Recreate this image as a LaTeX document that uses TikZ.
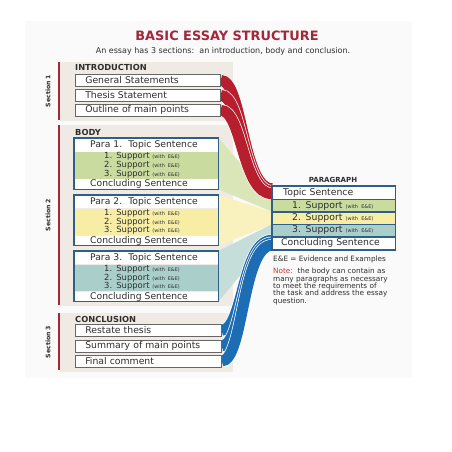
\documentclass[tikz,border=0pt]{standalone}
\usepackage{fontspec}
\setmainfont{DejaVu Sans}
\usetikzlibrary{calc,backgrounds}

\definecolor{essred}{HTML}{A3273A}
\definecolor{notered}{HTML}{C0392B}
\definecolor{ribred}{HTML}{B71F2E}
\definecolor{ribblue}{HTML}{1D6DB5}
\definecolor{panel}{HTML}{EFEBE4}
\definecolor{pblue}{HTML}{2F5E88}
\definecolor{txt}{HTML}{2E2E2E}
\definecolor{sgreen}{HTML}{C9DB9E}
\definecolor{syellow}{HTML}{F8EDA5}
\definecolor{steal}{HTML}{AACFCB}
\definecolor{fgreen}{HTML}{DAE6B8}
\definecolor{fyellow}{HTML}{FAF2BE}
\definecolor{fteal}{HTML}{C5DEDA}

\newcommand{\setfs}[1]{\fontsize{#1}{#1}\selectfont}
\newcommand{\supline}[1]{#1. Support {\setfs{5}(with E\&E)}}

\tikzset{
  lbox/.style={draw=black!60, line width=0.6pt, fill=white, anchor=north west,
    minimum height=12pt, text width=125pt, inner xsep=10pt, inner ysep=0pt,
    align=left, text=txt, font=\setfs{9.3}},
  prow/.style={fill=white, anchor=north west, text width=112pt, inner xsep=16pt,
    inner ysep=0pt, align=left, text=txt, font=\setfs{9.2}},
  psup/.style={fill=#1, anchor=north west, text width=84pt, inner xsep=30pt,
    inner ysep=0pt, minimum height=26.5pt, align=left, text=txt,
    font=\fontsize{8.4}{8.6}\selectfont},
  pbord/.style={draw=pblue, line width=1.1pt},
  qrow/.style={draw=pblue, line width=0.4pt, fill=#1, anchor=north west,
    inner ysep=0pt, align=left, text=txt, font=\setfs{9.3}},
  hdr/.style={anchor=west, inner sep=0pt, text=txt, font=\bfseries\setfs{8.3}},
  seclab/.style={rotate=90, inner sep=0pt, text=txt, font=\bfseries\setfs{6.2}},
  secline/.style={draw=essred, line width=1.4pt},
  redrib/.style={draw=white, line width=0.7pt, double=ribred, double distance=11pt},
  bluerib/.style={draw=white, line width=0.7pt, double=ribblue, double distance=11pt},
  small/.style={inner sep=0pt, text=txt, font=\setfs{7.3}}
}

\begin{document}
\begin{tikzpicture}[x=1pt,y=-1pt]
\useasboundingbox (0,0) rectangle (452,452);

\node[text=essred, font=\bfseries\setfs{12.9}] (title) at (227,36) {BASIC ESSAY STRUCTURE};
\node[small, font=\setfs{8}] (subtitle) at (223,51) {An essay has 3 sections:\ \ an introduction, body and conclusion.};

% introduction
\node[hdr] (introhd) at (75,67.5) {INTRODUCTION};
\node[lbox] (gen) at (75,74) {General Statements};
\node[lbox] (thesis) at (75,89) {Thesis Statement};
\node[lbox] (outline) at (75,104) {Outline of main points};

% body
\node[hdr] (bodyhd) at (75,132) {BODY};
\node[prow, minimum height=13.5pt] (p1top) at (74,138) {Para 1.\ \ Topic Sentence};
\node[psup=sgreen] (p1sup) at (p1top.south west) {\supline{1}\\\supline{2}\\\supline{3}};
\node[prow, minimum height=10pt] (p1con) at (p1sup.south west) {Concluding Sentence};
\node[prow, minimum height=13pt] (p2top) at (74,195) {Para 2.\ \ Topic Sentence};
\node[psup=syellow] (p2sup) at (p2top.south west) {\supline{1}\\\supline{2}\\\supline{3}};
\node[prow, minimum height=10pt] (p2con) at (p2sup.south west) {Concluding Sentence};
\node[prow, minimum height=13pt] (p3top) at (74,251) {Para 3.\ \ Topic Sentence};
\node[psup=steal] (p3sup) at (p3top.south west) {\supline{1}\\\supline{2}\\\supline{3}};
\node[prow, minimum height=10pt] (p3con) at (p3sup.south west) {Concluding Sentence};
\draw[pbord] (p1top.north west) rectangle (p1con.south east);
\draw[pbord] (p2top.north west) rectangle (p2con.south east);
\draw[pbord] (p3top.north west) rectangle (p3con.south east);

% conclusion
\node[hdr] (conchd) at (75,319) {CONCLUSION};
\node[lbox, text width=126pt] (restate) at (75,324) {Restate thesis};
\node[lbox, text width=126pt] (summary) at (75,339.5) {Summary of main points};
\node[lbox, text width=126pt, minimum height=11.5pt] (final) at (75,355) {Final comment};

\node[seclab] (sec1) at (48,91) {Section 1};
\node[seclab] (sec2) at (48,215) {Section 2};
\node[seclab] (sec3) at (48,342) {Section 3};

% paragraph
\node[small, font=\bfseries\setfs{7}] (parhd) at (333,180) {PARAGRAPH};
\node[qrow=white, minimum height=13pt, text width=101pt, inner xsep=11pt] (ptop) at (272,186) {Topic Sentence};
\node[qrow=sgreen, minimum height=12pt, text width=83pt, inner xsep=20pt] (psa) at (ptop.south west) {\supline{1}};
\node[qrow=syellow, minimum height=12pt, text width=83pt, inner xsep=20pt] (psb) at (psa.south west) {\supline{2}};
\node[qrow=steal, minimum height=12pt, text width=83pt, inner xsep=20pt] (psc) at (psb.south west) {\supline{3}};
\node[qrow=white, minimum height=13pt, text width=105pt, inner xsep=9pt] (pcon) at (psc.south west) {Concluding Sentence};
\draw[pbord] (ptop.north west) rectangle (pcon.south east);

\node[small, anchor=west] (ee) at (273,259) {E\&E = Evidence and Examples};
\node[small, anchor=north west, align=left, font=\fontsize{7.3}{7.4}\selectfont] (note) at (273,268)
  {\textcolor{notered}{Note:}\ \ the body can contain as\\many paragraphs as necessary\\to meet the requirements of\\the task and address the essay\\question.};

\begin{scope}[on background layer]
\fill[black!2] (25,21) rectangle (412,378);
\fill[panel] (60,62) rectangle (233,121);
\fill[panel] (60,125) rectangle (233,306);
\fill[panel] (60,313) rectangle (233,372);
\draw[secline] (59,62) -- (59,120);
\draw[secline] (59,125) -- (59,305);
\draw[secline] (59,313) -- (59,370);
\fill[fgreen] (p1top.north east) -- (psa.north west) -- (psa.south west) -- (p1con.south east) -- cycle;
\fill[fyellow] (p2top.north east) -- (psb.north west) -- (psb.south west) -- (p2con.south east) -- cycle;
\fill[fteal] (p3top.north east) -- (psc.north west) -- (psc.south west) -- (p3con.south east) -- cycle;
\draw[redrib] (gen.east) .. controls +(22,0) and +(-30,0) .. ($(ptop.west)+(0,-4)$);
\draw[redrib] (thesis.east) .. controls +(22,0) and +(-30,0) .. ($(ptop.west)+(0,-1.5)$);
\draw[redrib] (outline.east) .. controls +(22,0) and +(-30,0) .. ($(ptop.west)+(0,1)$);
\draw[bluerib] (restate.east) .. controls +(22,0) and +(-30,0) .. ($(pcon.west)+(0,-3)$);
\draw[bluerib] (summary.east) .. controls +(22,0) and +(-30,0) .. ($(pcon.west)+(0,-0.5)$);
\draw[bluerib] (final.east) .. controls +(22,0) and +(-30,0) .. ($(pcon.west)+(0,2)$);
\end{scope}
\end{tikzpicture}
\end{document}
